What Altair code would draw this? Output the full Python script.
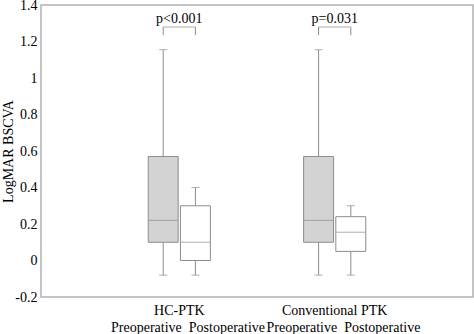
import altair as alt
import pandas as pd

groups = ["HC-PTK", "Conventional PTK"]
periods = ["Preoperative", "Postoperative"]

box_group = ["HC-PTK", "HC-PTK", "Conventional PTK", "Conventional PTK"]
box_period = ["Preoperative", "Postoperative", "Preoperative", "Postoperative"]
box_min = [-0.08, -0.08, -0.08, -0.08]
box_q1 = [0.10, 0.00, 0.10, 0.05]
box_median = [0.22, 0.10, 0.22, 0.155]
box_q3 = [0.57, 0.30, 0.57, 0.24]
box_max = [1.155, 0.40, 1.155, 0.30]

p_labels = ["p<0.001", "p=0.031"]
bracket_top = [1.28, 1.28]
bracket_leg = [1.235, 1.235]
p_text_y = [1.325, 1.325]

y_ticks = [-0.2, 0, 0.2, 0.4, 0.6, 0.8, 1.0, 1.2, 1.4]

boxes = pd.DataFrame({
    "group": box_group, "period": box_period,
    "lo": box_min, "q1": box_q1, "med": box_median, "q3": box_q3, "hi": box_max,
})

legs = pd.DataFrame({
    "group": [g for g in groups for _ in periods],
    "period": periods * len(groups),
    "top": [t for t in bracket_top for _ in periods],
    "bottom": [b for b in bracket_leg for _ in periods],
})
ptab = pd.DataFrame({"group": groups, "label": p_labels, "top": bracket_top, "ty": p_text_y})

FONT = "Liberation Serif, Times New Roman, serif"
GRAY = "#8c8c8c"
NB = "\u00a0"
second_line = "\u200b" + NB * 5 + "Preoperative" + NB * 2 + "Postoperative"

x_axis = alt.Axis(
    title=None, labelAngle=0, ticks=False, domain=False,
    labelExpr="[datum.label, '" + second_line + "']",
    labelFontSize=14, labelColor="black",
    labelPadding=6, labelLineHeight=17, labelOverlap=False,
)
x_scale = alt.Scale(paddingInner=0.6, paddingOuter=0.69)


def X():
    return alt.X("group:N", sort=groups, scale=x_scale, axis=x_axis)


xoff = alt.XOffset("period:N", sort=periods, scale=alt.Scale(paddingInner=0.07, paddingOuter=0))
y_scale = alt.Scale(domain=[-0.2, 1.4], nice=False, zero=False)
y_axis = alt.Axis(
    title="LogMAR BSCVA", values=y_ticks, ticks=False, domain=False, grid=False,
    labelExpr="replace(format(datum.value, '~g'), '\u2212', '-')", labelOverlap=False,
    labelFontSize=14, labelColor="black", labelPadding=4,
    titleFontSize=14, titleFontWeight="normal", titleColor="black",
    titleX=-33, titleBaseline="middle",
)


def Y(field):
    return alt.Y(field, scale=y_scale, axis=y_axis)


base = alt.Chart(boxes).encode(x=X(), xOffset=xoff)

whisk = base.mark_rule(color=GRAY, strokeWidth=1).encode(y=Y("lo:Q"), y2="hi:Q")
cap_lo = base.mark_tick(color=GRAY, size=8, thickness=1).encode(y=Y("lo:Q"))
cap_hi = base.mark_tick(color=GRAY, size=8, thickness=1).encode(y=Y("hi:Q"))
box = base.mark_bar(stroke=GRAY, strokeWidth=1).encode(
    y=Y("q3:Q"), y2="q1:Q",
    fill=alt.Fill("period:N", scale=alt.Scale(domain=periods, range=["#d3d3d3", "#ffffff"]), legend=None),
)
med = base.mark_tick(color=GRAY, size=29, thickness=1).encode(y=Y("med:Q"))

leg_rules = alt.Chart(legs).mark_rule(color=GRAY, strokeWidth=1).encode(
    x=X(), xOffset=xoff, y=Y("top:Q"), y2="bottom:Q")
bar_top = alt.Chart(ptab).mark_tick(color=GRAY, size=32, thickness=1).encode(
    x=X(), y=Y("top:Q"))
ptext = alt.Chart(ptab).mark_text(fontSize=14, color="black").encode(
    x=X(), y=Y("ty:Q"), text="label:N")

chart = alt.layer(whisk, box, med, cap_lo, cap_hi, leg_rules, bar_top, ptext).properties(
    width=432, height=292,
    autosize=alt.AutoSizeParams(type="none"),
    padding={"left": 41, "top": 5, "right": 1, "bottom": 37},
    background="white",
).configure(font=FONT).configure_axis(labelFont=FONT, titleFont=FONT).configure_text(
    font=FONT).configure_view(stroke="#b0b0b0", strokeWidth=1.5)

chart.save("out.html", embed_options={"renderer": "svg", "actions": False})
